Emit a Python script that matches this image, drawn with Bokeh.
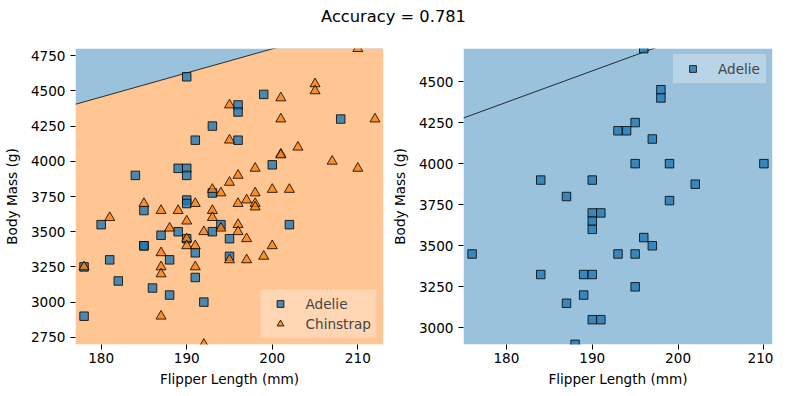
from bokeh.plotting import figure
from bokeh.layouts import column, row
from bokeh.models import Div, Range1d, FixedTicker
from bokeh.embed import file_html
from bokeh.resources import INLINE

FONT = "DejaVu Sans"
BLUE = "#1f77b4"
ORANGE = "#ff7f0e"
BLUE_REGION = "#9ac2dd"
ORANGE_REGION = "#ffc593"

title_text = "Accuracy = 0.781"
x_label = "Flipper Length (mm)"
y_label = "Body Mass (g)"

# ---- left panel data ----
left_x_ticks = [180, 190, 200, 210]
left_y_ticks = [2750, 3000, 3250, 3500, 3750, 4000, 4250, 4500, 4750]
left_x_range = [177, 213]
left_y_range = [2699, 4801]
left_boundary_x = [177, 213]
left_boundary_y = [4405, 5021]

left_adelie_x = [190, 193, 191, 184, 189, 190, 190, 193, 190, 190, 185, 180, 187, 189,
                 193, 190, 191, 185, 185, 188, 191, 181, 178, 182, 186, 188, 192, 178,
                 199, 196, 196, 208, 196, 200, 194, 195, 202, 195]
left_adelie_y = [4600, 4250, 4150, 3900, 3950, 3950, 3900, 3775, 3725, 3700, 3650, 3550,
                 3475, 3500, 3500, 3450, 3350, 3400, 3400, 3300, 3175, 3300, 3250, 3150,
                 3100, 3050, 3000, 2900, 4475, 4400, 4350, 4300, 4150, 3975, 3550, 3450,
                 3550, 3325]

left_chinstrap_x = [210, 205, 205, 201, 195, 212, 201, 195, 203, 201, 201, 207, 210, 198,
                    196, 195, 200, 202, 193, 198, 194, 197, 198, 198, 196, 193, 193, 185,
                    181, 187, 189, 191, 190, 188, 192, 190, 190, 191, 187, 187, 187, 191,
                    178, 187, 192, 194, 196, 196, 197, 200, 199, 195, 197]
left_chinstrap_y = [4800, 4550, 4500, 4450, 4400, 4300, 4300, 4150, 4100, 4050, 4045, 4000,
                    3950, 3950, 3900, 3850, 3800, 3800, 3800, 3775, 3775, 3725, 3700, 3675,
                    3700, 3650, 3600, 3700, 3600, 3650, 3650, 3700, 3575, 3525, 3500, 3450,
                    3400, 3400, 3350, 3250, 3200, 3250, 3250, 2900, 2700, 3525, 3550, 3500,
                    3450, 3400, 3325, 3300, 3300]

# ---- right panel data ----
right_x_ticks = [180, 190, 200, 210]
right_y_ticks = [3000, 3250, 3500, 3750, 4000, 4250, 4500]
right_x_range = [175, 211]
right_y_range = [2899, 4701]
right_boundary_x = [175, 211]
right_boundary_y = [4278, 4966]

right_adelie_x = [176, 184, 184, 187, 187, 188, 189, 189, 190, 190, 190, 190, 190, 190,
                  191, 191, 193, 193, 194, 195, 195, 195, 195, 196, 196, 197, 197, 198,
                  198, 199, 199, 202, 210]
right_adelie_y = [3450, 3900, 3325, 3800, 3150, 2900, 3325, 3200, 3900, 3700, 3650, 3600,
                  3325, 3050, 3700, 3050, 4200, 3450, 4200, 4250, 4000, 3450, 3250, 4700,
                  3550, 4150, 3500, 4450, 4400, 4000, 3775, 3875, 4000]

FS = "13.6px"


def style(p, xt, yt):
    for ax in (p.xaxis[0], p.yaxis[0]):
        ax.axis_line_color = None
        ax.major_tick_in = 0
        ax.major_tick_out = 5
        ax.minor_tick_line_color = None
        ax.major_label_text_font = FONT
        ax.major_label_text_font_size = FS
        ax.major_label_text_color = "black"
        ax.axis_label_text_font = FONT
        ax.axis_label_text_font_size = FS
        ax.axis_label_text_font_style = "normal"
        ax.axis_label_text_color = "black"
    p.xaxis.ticker = FixedTicker(ticks=xt)
    p.yaxis.ticker = FixedTicker(ticks=yt)
    p.xaxis.axis_label = x_label
    p.yaxis.axis_label = y_label
    p.xaxis.major_label_standoff = 3
    p.yaxis.major_label_standoff = 5
    p.xaxis.axis_label_standoff = 5
    p.yaxis.axis_label_standoff = 8
    p.grid.visible = False
    p.outline_line_color = None


def style_legend(p, loc):
    lg = p.legend[0]
    lg.location = loc
    lg.margin = 6
    lg.padding = 5
    lg.spacing = 3
    lg.glyph_width = 27
    lg.glyph_height = 17
    lg.label_height = 17
    lg.label_standoff = 12
    lg.label_text_font = FONT
    lg.label_text_font_size = FS
    lg.background_fill_color = "white"
    lg.background_fill_alpha = 0.3
    lg.border_line_color = "#cccccc"
    lg.border_line_alpha = 0.3


p1 = figure(width=388, height=354,
            x_range=Range1d(*left_x_range), y_range=Range1d(*left_y_range),
            output_backend="svg", toolbar_location=None,
            min_border_left=73, min_border_right=5, min_border_top=12, min_border_bottom=46)
p1.varea(x=left_boundary_x, y1=[left_y_range[0]] * 2, y2=left_boundary_y,
         fill_color=ORANGE_REGION, fill_alpha=1)
p1.varea(x=left_boundary_x, y1=left_boundary_y, y2=[left_y_range[1]] * 2,
         fill_color=BLUE_REGION, fill_alpha=1)
p1.line(left_boundary_x, left_boundary_y, line_color="black", line_width=0.8)
p1.scatter(left_adelie_x, left_adelie_y, marker="square", size=8.5,
           fill_color=BLUE, fill_alpha=0.8, line_color="black", line_alpha=0.8,
           legend_label="Adelie")
p1.scatter(left_chinstrap_x, left_chinstrap_y, marker="triangle", size=10,
           fill_color=ORANGE, fill_alpha=0.8, line_color="black", line_alpha=0.8,
           legend_label="Chinstrap")
style(p1, left_x_ticks, left_y_ticks)
style_legend(p1, "bottom_right")

p2 = figure(width=385, height=354,
            x_range=Range1d(*right_x_range), y_range=Range1d(*right_y_range),
            output_backend="svg", toolbar_location=None,
            min_border_left=75, min_border_right=1, min_border_top=12, min_border_bottom=46)
p2.varea(x=right_x_range, y1=[right_y_range[0]] * 2, y2=[right_y_range[1]] * 2,
         fill_color=BLUE_REGION, fill_alpha=1)
p2.line(right_boundary_x, right_boundary_y, line_color="black", line_width=0.8)
p2.scatter(right_adelie_x, right_adelie_y, marker="square", size=8.5,
           fill_color=BLUE, fill_alpha=0.8, line_color="black", line_alpha=0.8,
           legend_label="Adelie")
style(p2, right_x_ticks, right_y_ticks)
style_legend(p2, "top_right")

title = Div(text=title_text, width=773, height=26,
            styles={"text-align": "center", "font-size": "16.3px", "font-family": FONT,
                    "line-height": "24px", "color": "black", "padding-left": "4px",
                    "box-sizing": "border-box"})

layout = column(title, row(p1, p2))
open("out.html", "w").write(file_html(layout, INLINE))
